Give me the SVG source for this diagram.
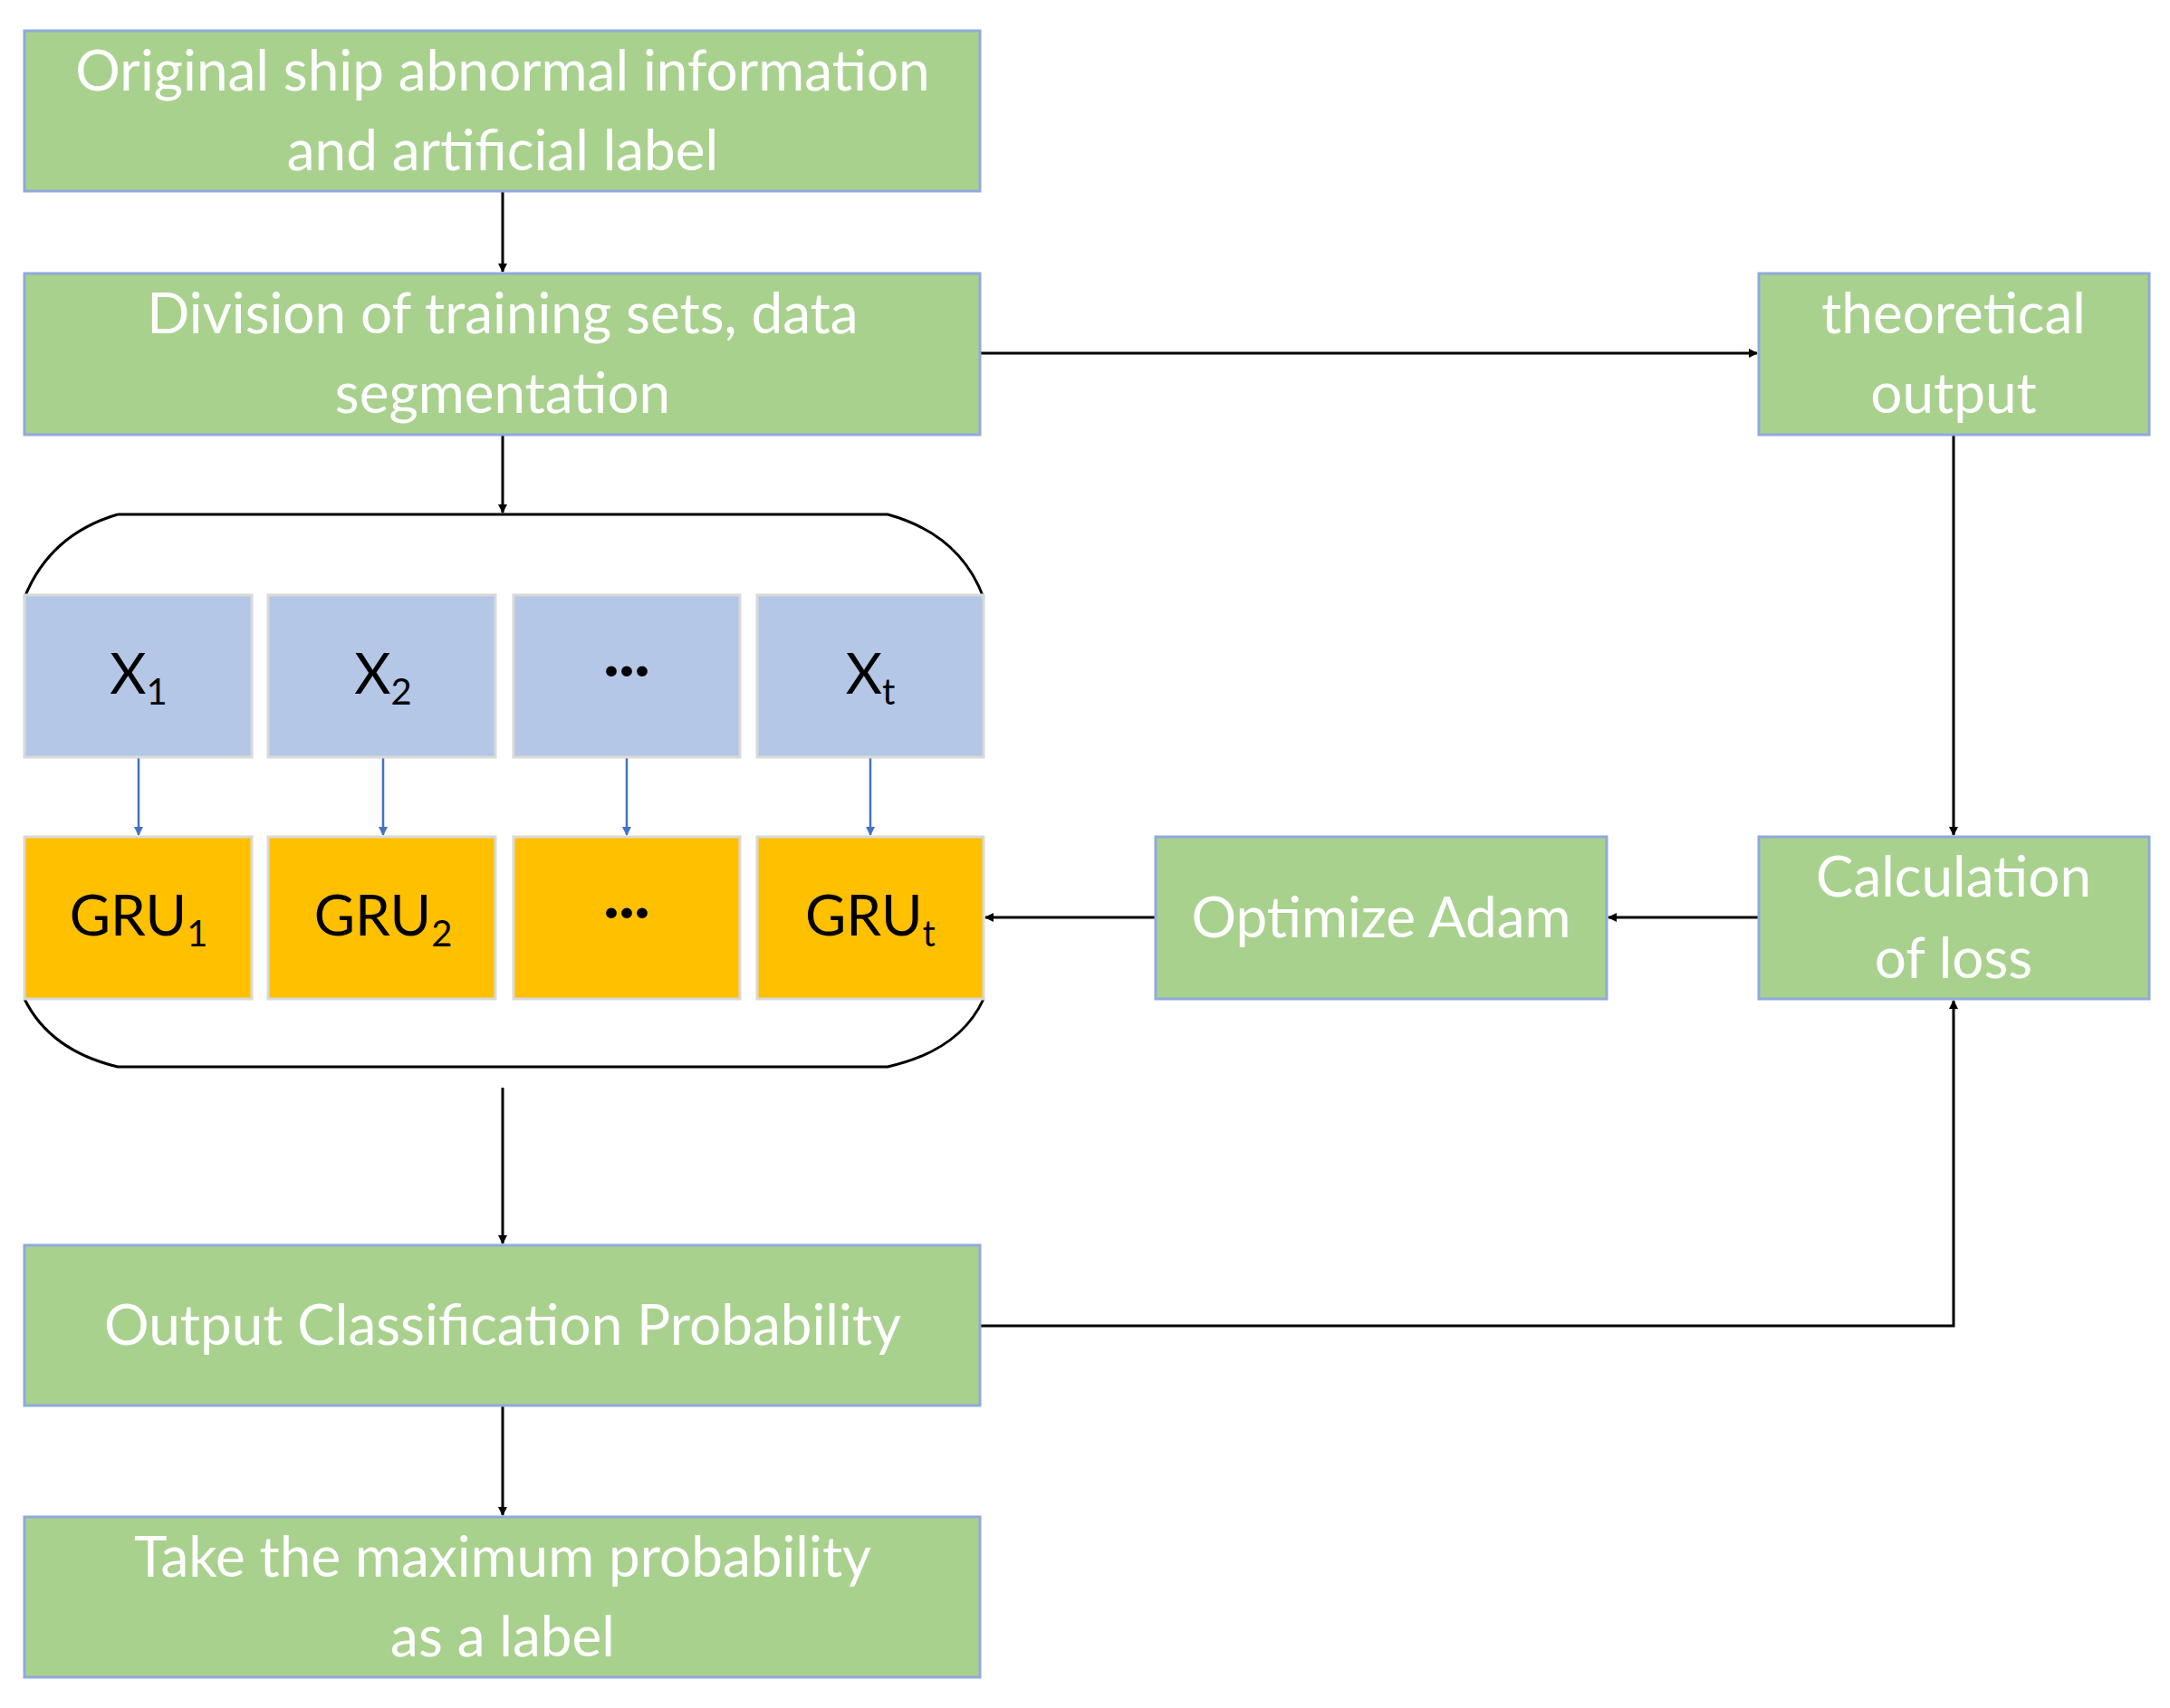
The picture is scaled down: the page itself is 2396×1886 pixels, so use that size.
<svg xmlns="http://www.w3.org/2000/svg" width="2396" height="1886" viewBox="0 0 2396 1886">
<style>
.g{fill:#A9D18E;stroke:#8FAADC;stroke-width:3}
.b{fill:#B4C7E7;stroke:#D9D9D9;stroke-width:3}
.o{fill:#FFC000;stroke:#D9D9D9;stroke-width:3}
.tw{font-family:Lato,"Open Sans",sans-serif;font-size:62px;fill:#fff;text-anchor:middle}
.tk{font-family:Lato,"Open Sans",sans-serif;font-size:62px;fill:#000;text-anchor:middle}
.c{fill:none;stroke:#000;stroke-width:3}
.cb{fill:none;stroke:#4472C4;stroke-width:2.5}
</style>
<defs>
<marker id="a" markerWidth="10" markerHeight="10" refX="9" refY="5" orient="auto" markerUnits="userSpaceOnUse" viewBox="0 0 10 10"><path d="M0,0L10,5L0,10z" fill="#000"/></marker>
<marker id="ab" markerWidth="10" markerHeight="10" refX="9" refY="5" orient="auto" viewBox="0 0 10 10" markerUnits="userSpaceOnUse"><path d="M0,0L10,5L0,10z" fill="#4472C4"/></marker>
</defs>
<g id="container"><path class="c" d="M130,568 H980 Q1060,590 1086,660 M27,660 Q55,590 130,568 M27,1103 Q55,1160 130,1178 H980 Q1060,1160 1086,1103"/></g>
<g id="connectors">
<path class="c" d="M555,211 V300" marker-end="url(#a)" style="stroke-width:3"/>
<path class="c" d="M555,480 V566" marker-end="url(#a)"/>
<path class="c" d="M1082,390 H1940" marker-end="url(#a)"/>
<path class="c" d="M2157,480 V922" marker-end="url(#a)"/>
<path class="c" d="M1942,1013 H1776" marker-end="url(#a)"/>
<path class="c" d="M1276,1013 H1088" marker-end="url(#a)"/>
<path class="c" d="M555,1201 V1373" marker-end="url(#a)"/>
<path class="c" d="M1082,1464 H2157 V1105" marker-end="url(#a)"/>
<path class="c" d="M555,1552 V1673" marker-end="url(#a)"/>
<path class="cb" d="M153,836 V922" marker-end="url(#ab)"/>
<path class="cb" d="M423,836 V922" marker-end="url(#ab)"/>
<path class="cb" d="M692,836 V922" marker-end="url(#ab)"/>
<path class="cb" d="M961,836 V922" marker-end="url(#ab)"/>
</g>
<g id="n1"><rect class="g" x="27" y="34" width="1055" height="177"/><text class="tw" x="555" y="100">Original ship abnormal information</text><text class="tw" x="555" y="188">and artificial label</text></g>
<g id="n2"><rect class="g" x="27" y="302" width="1055" height="178"/><text class="tw" x="555" y="368">Division of training sets, data</text><text class="tw" x="555" y="456">segmentation</text></g>
<g id="n3"><rect class="g" x="1942" y="302" width="431" height="178"/><text class="tw" x="2157" y="368">theoretical</text><text class="tw" x="2157" y="456">output</text></g>
<g id="x1"><rect class="b" x="27" y="657" width="251" height="179"/><text class="tk" x="153" y="766">X<tspan font-size="40" dy="12">1</tspan></text></g>
<g id="x2"><rect class="b" x="296" y="657" width="251" height="179"/><text class="tk" x="423" y="766">X<tspan font-size="40" dy="12">2</tspan></text></g>
<g id="x3"><rect class="b" x="567" y="657" width="250" height="179"/><text class="tk" x="692" y="760" font-weight="bold">···</text></g>
<g id="x4"><rect class="b" x="836" y="657" width="250" height="179"/><text class="tk" x="961" y="766">X<tspan font-size="40" dy="12">t</tspan></text></g>
<g id="g1"><rect class="o" x="27" y="924" width="251" height="179"/><text class="tk" x="153" y="1033">GRU<tspan font-size="40" dy="12">1</tspan></text></g>
<g id="g2"><rect class="o" x="296" y="924" width="251" height="179"/><text class="tk" x="423" y="1033">GRU<tspan font-size="40" dy="12">2</tspan></text></g>
<g id="g3"><rect class="o" x="567" y="924" width="250" height="179"/><text class="tk" x="692" y="1027" font-weight="bold">···</text></g>
<g id="g4"><rect class="o" x="836" y="924" width="250" height="179"/><text class="tk" x="961" y="1033">GRU<tspan font-size="40" dy="12">t</tspan></text></g>
<g id="n4"><rect class="g" x="1276" y="924" width="498" height="179"/><text class="tw" x="1525" y="1035">Optimize Adam</text></g>
<g id="n5"><rect class="g" x="1942" y="924" width="431" height="179"/><text class="tw" x="2157" y="990">Calculation</text><text class="tw" x="2157" y="1080">of loss</text></g>
<g id="n6"><rect class="g" x="27" y="1375" width="1055" height="177"/><text class="tw" x="555" y="1485">Output Classification Probability</text></g>
<g id="n7"><rect class="g" x="27" y="1675" width="1055" height="177"/><text class="tw" x="555" y="1741">Take the maximum probability</text><text class="tw" x="555" y="1829">as a label</text></g>
</svg>
